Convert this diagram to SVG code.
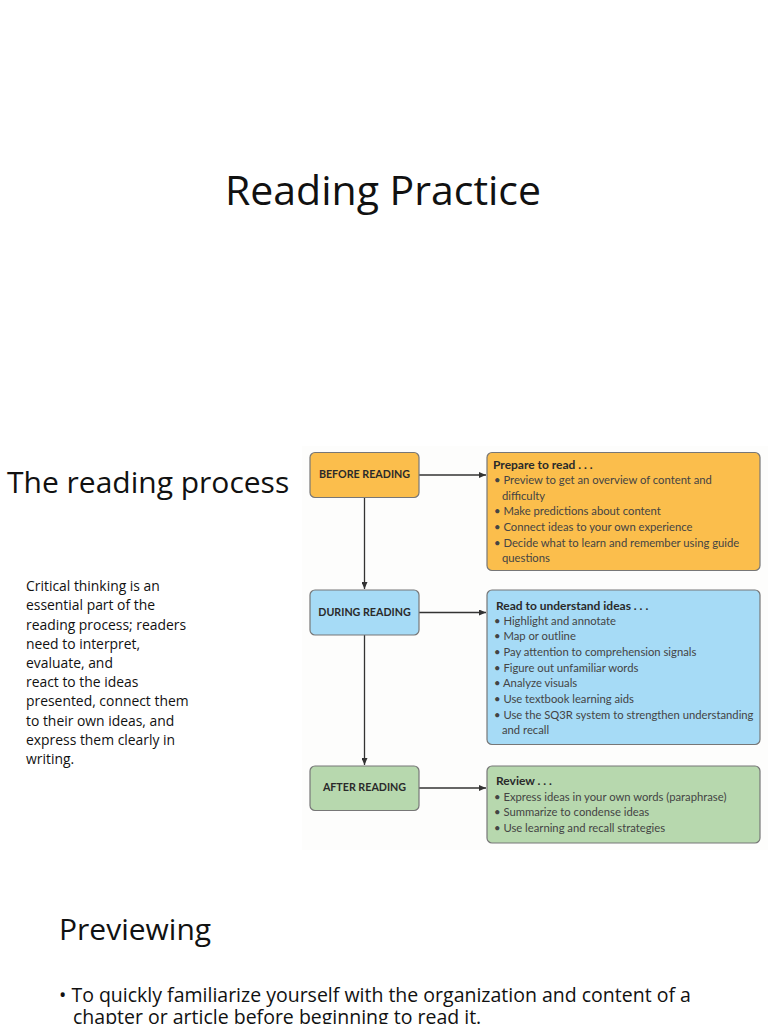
<svg xmlns="http://www.w3.org/2000/svg" width="768" height="1024" viewBox="0 0 768 1024">
<defs>
<marker id="arr" markerWidth="8" markerHeight="6" refX="7" refY="3" orient="auto" markerUnits="userSpaceOnUse"><path d="M0 0L7 3L0 6Z" fill="#333"/></marker>
</defs>
<style>
.t{font-family:"Open Sans","Noto Sans",sans-serif;fill:#111}
.b{font-family:"Open Sans","Noto Sans",sans-serif;font-size:13.9px;fill:#111}
.n{font-family:Lato,"Liberation Sans",sans-serif;font-size:10.7px;font-weight:700;fill:#2a2a2a;text-anchor:middle}
.l{font-family:Lato,"Liberation Sans",sans-serif;font-size:11.25px;fill:#444}
.lh{font-family:Lato,"Liberation Sans",sans-serif;font-size:12px;font-weight:700;fill:#2a2a2a}
.box{stroke:#777;stroke-width:1.2}
.c{stroke:#333;stroke-width:1.3;fill:none;marker-end:url(#arr)}
</style>
<rect width="768" height="1024" fill="#fff"/>
<rect x="302" y="446" width="466" height="404" fill="#fdfdfc"/>
<text class="t" x="383" y="205" font-size="41">
<tspan text-anchor="middle">Reading Practice</tspan></text>
<text class="t" x="7" y="493" font-size="30">The reading process</text>
<g id="paragraph">
<text class="b" x="26" y="591">Critical thinking is an</text>
<text class="b" x="26" y="610">essential part of the</text>
<text class="b" x="26" y="630">reading process; readers</text>
<text class="b" x="26" y="649">need to interpret,</text>
<text class="b" x="26" y="668">evaluate, and</text>
<text class="b" x="26" y="687">react to the ideas</text>
<text class="b" x="26" y="706">presented, connect them</text>
<text class="b" x="26" y="726">to their own ideas, and</text>
<text class="b" x="26" y="745">express them clearly in</text>
<text class="b" x="26" y="764">writing.</text>
</g>
<g id="connectors">
<path class="c" d="M364.500 497V589"/>
<path class="c" d="M364.500 635V765"/>
<path class="c" d="M419 475H486"/>
<path class="c" d="M419 612.500H486"/>
<path class="c" d="M419 788H486"/>
</g>
<g id="before-reading">
<rect class="box" x="310" y="452.500" width="109" height="45" rx="5" fill="#fbbe4c"/>
<text class="n" x="364.500" y="478">BEFORE READING</text>
</g>
<g id="during-reading">
<rect class="box" x="310" y="590" width="109" height="45" rx="5" fill="#a6dbf6"/>
<text class="n" x="364.500" y="616">DURING READING</text>
</g>
<g id="after-reading">
<rect class="box" x="310" y="766" width="109" height="44.500" rx="5" fill="#b7d8ae"/>
<text class="n" x="364.500" y="791">AFTER READING</text>
</g>
<g id="prepare">
<rect class="box" x="487" y="452.500" width="273" height="118" rx="5" fill="#fbbe4c"/>
<text class="lh" x="493" y="469">Prepare to read . . .</text>
<text class="l" x="494" y="484">• Preview to get an overview of content and</text>
<text class="l" x="502" y="500">difficulty</text>
<text class="l" x="494" y="515">• Make predictions about content</text>
<text class="l" x="494" y="531">• Connect ideas to your own experience</text>
<text class="l" x="494" y="547">• Decide what to learn and remember using guide</text>
<text class="l" x="502" y="562">questions</text>
</g>
<g id="understand">
<rect class="box" x="487" y="590" width="273" height="154.500" rx="5" fill="#a6dbf6"/>
<text class="lh" x="496" y="610">Read to understand ideas . . .</text>
<text class="l" x="494" y="625">• Highlight and annotate</text>
<text class="l" x="494" y="640">• Map or outline</text>
<text class="l" x="494" y="656">• Pay attention to comprehension signals</text>
<text class="l" x="494" y="672">• Figure out unfamiliar words</text>
<text class="l" x="494" y="687">• Analyze visuals</text>
<text class="l" x="494" y="703">• Use textbook learning aids</text>
<text class="l" x="494" y="719">• Use the SQ3R system to strengthen understanding</text>
<text class="l" x="502" y="734">and recall</text>
</g>
<g id="review">
<rect class="box" x="487" y="766" width="273" height="77" rx="5" fill="#b7d8ae"/>
<text class="lh" x="496" y="785">Review . . .</text>
<text class="l" x="494" y="801">• Express ideas in your own words (paraphrase)</text>
<text class="l" x="494" y="816">• Summarize to condense ideas</text>
<text class="l" x="494" y="832">• Use learning and recall strategies</text>
</g>
<text class="t" x="59" y="940" font-size="30">Previewing</text>
<text class="t" x="59" y="1002" font-size="19.500">• To quickly familiarize yourself with the organization and content of a</text>
<text class="t" x="73" y="1024" font-size="19.500">chapter or article before beginning to read it.</text>
</svg>
